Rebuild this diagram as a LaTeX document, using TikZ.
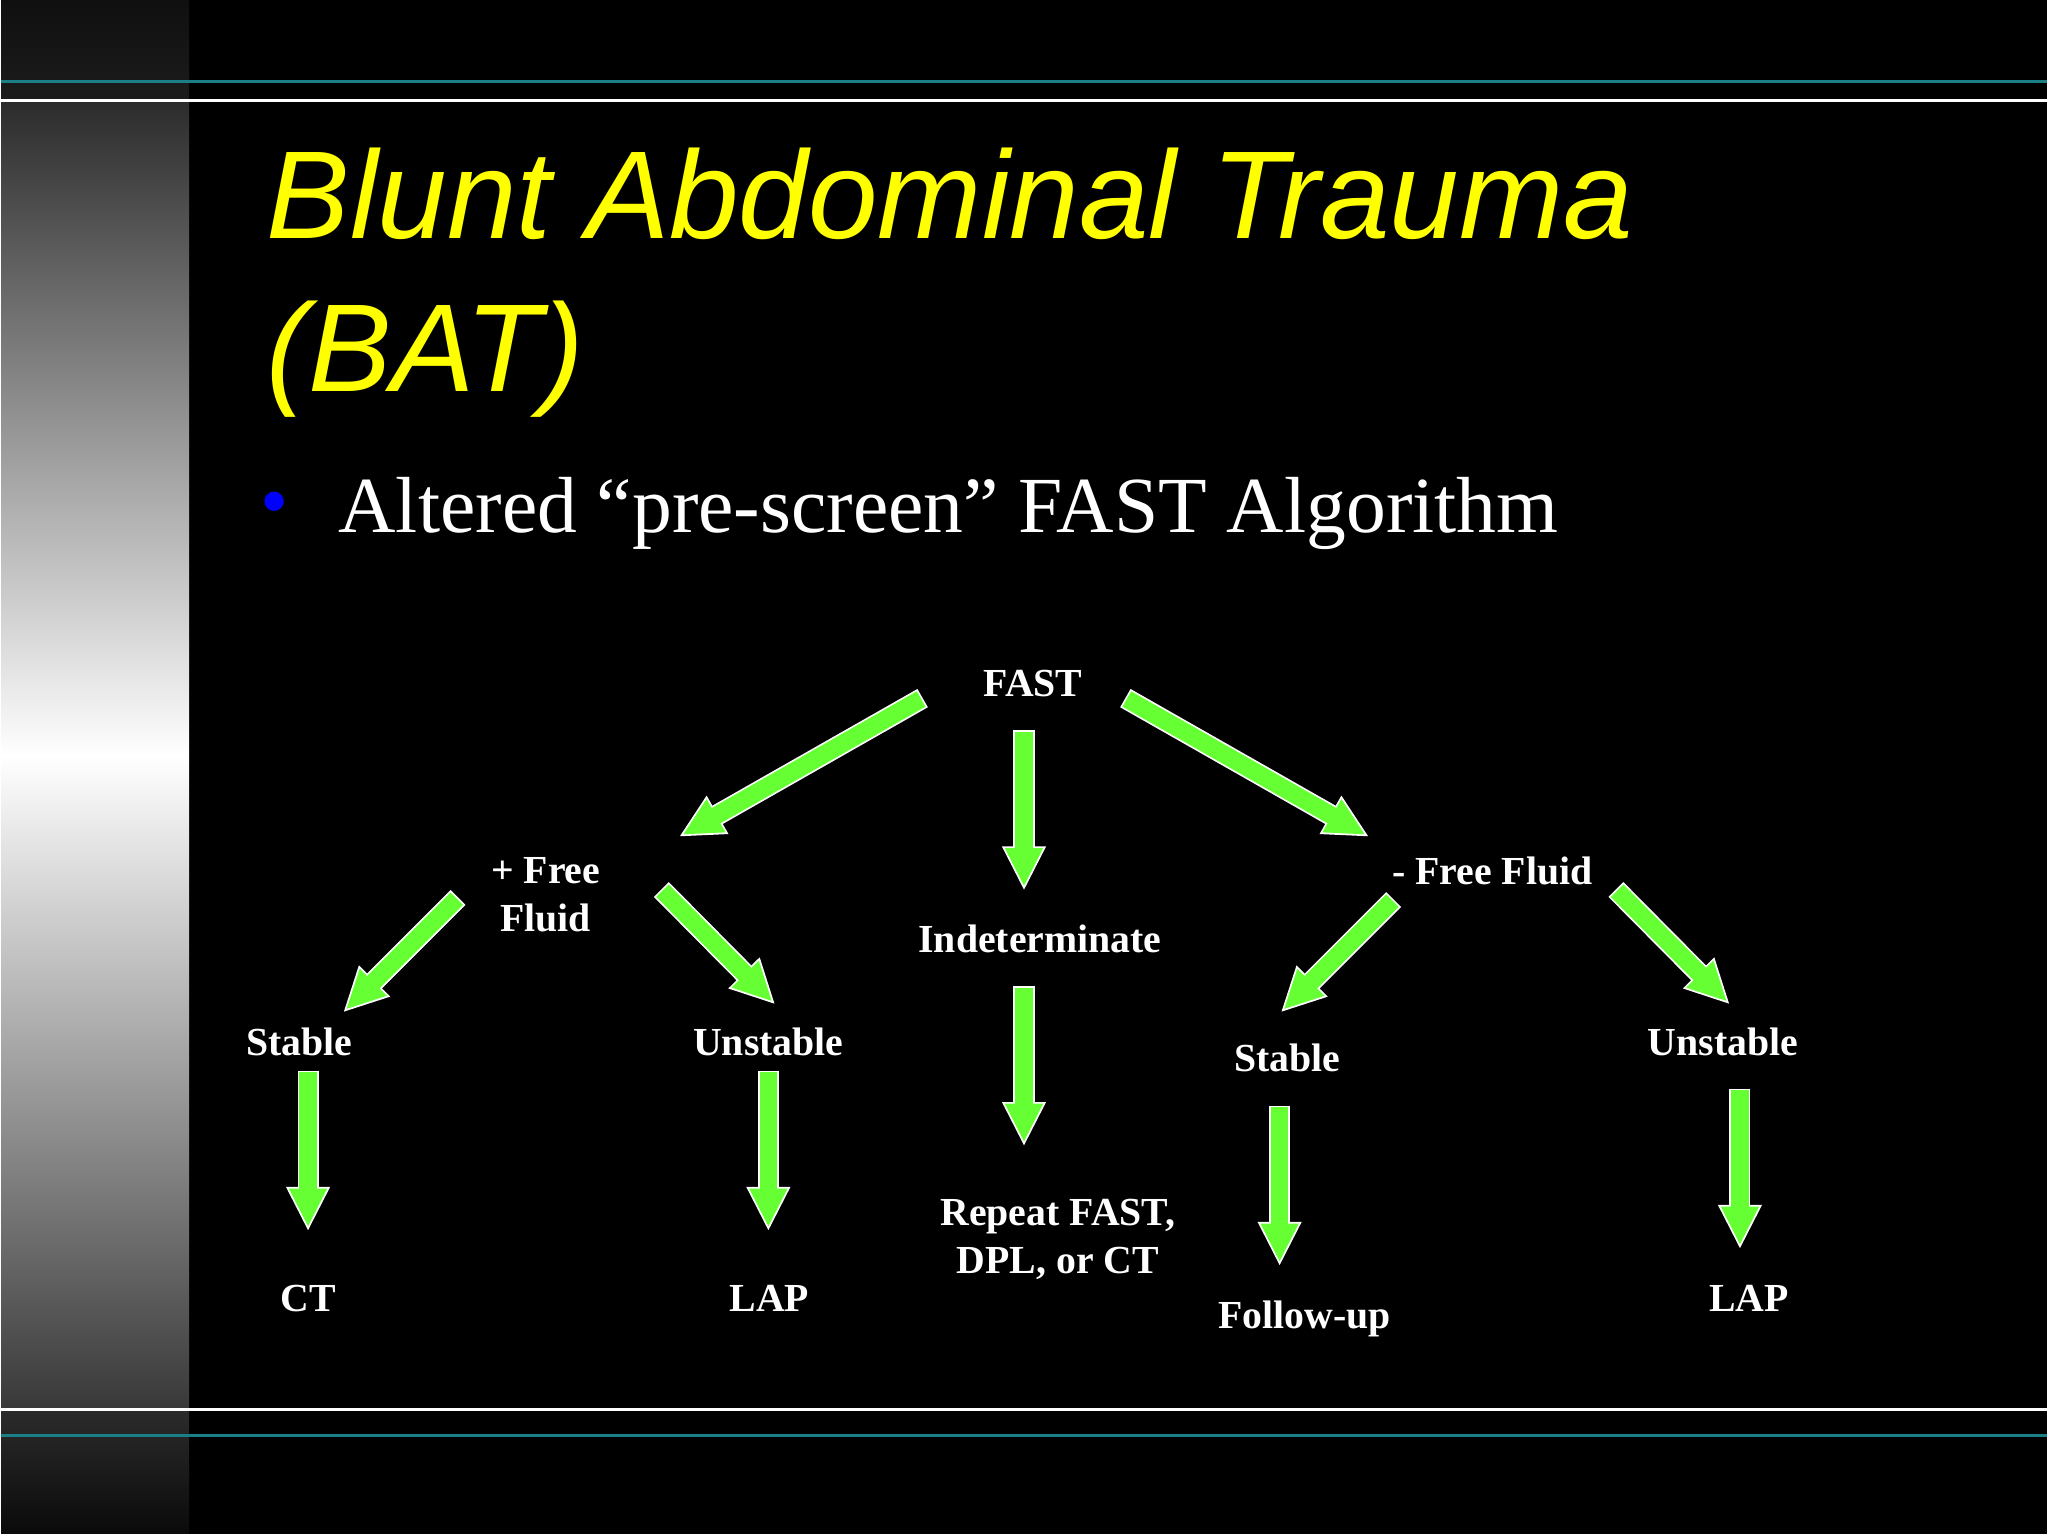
\documentclass[tikz,border=0pt]{standalone}
\usepackage{fontspec}
\setmainfont{Liberation Serif}
\newfontfamily\headfont{Liberation Sans}
\usetikzlibrary{arrows.meta}
\definecolor{fastgreen}{HTML}{66FF33}
\definecolor{ruleteal}{HTML}{1A7F86}
\definecolor{titleyellow}{HTML}{FFFF00}
\definecolor{bulletblue}{HTML}{0000FF}
\begin{document}
\begin{tikzpicture}[x=0.3515625pt, y=-0.3515625pt,
    fastnode/.style={font=\fontsize{14}{16.8}\selectfont\bfseries, text=white,
        align=center, inner sep=0pt, anchor=base},
    flowarrow/.style={draw=fastgreen, line width=6.2pt,
        -{Triangle[width=12.4pt,length=13.6pt]},
        preaction={draw=white, line width=7.4pt, shorten <=-0.6pt, shorten >=-1.45pt,
            -{Triangle[width=14.3pt,length=15.65pt]}}}]
    % slide background
    \fill[black] (0,0) rectangle (2048,1536);
    \shade[top color=black!94, bottom color=black!89] (0,0) rectangle (188,101);
    \shade[top color=black!83, bottom color=black!78, middle color=white] (0,101) rectangle (188,1412);
    \shade[top color=black!83, bottom color=black!96] (0,1412) rectangle (188,1536);
    \draw[ruleteal, line width=1.05pt] (0,82) -- (2048,82);
    \draw[white, line width=1.05pt] (0,101) -- (2048,101);
    \draw[white, line width=1.05pt] (0,1412) -- (2048,1412);
    \draw[ruleteal, line width=1.05pt] (0,1438) -- (2048,1438);

    % title and bullet
    \node[anchor=base west, inner sep=0pt, align=left, text=titleyellow,
        font=\headfont\itshape\fontsize{44}{53.8}\selectfont] (title) at (265,392)
        {Blunt Abdominal Trauma\\(BAT)};
    \fill[bulletblue] (273,502) circle (3.4pt);
    \node[anchor=base west, inner sep=0pt, text=white,
        font=\fontsize{28}{33.6}\selectfont] (sub) at (337,533)
        {Altered “pre-screen” FAST Algorithm};

    % algorithm
    \node[fastnode] (fast) at (1033,698) {FAST};
    \node[fastnode] (plus) at (545,933) {+ Free\\Fluid};
    \node[fastnode] (indet) at (1040,954) {Indeterminate};
    \node[fastnode] (minus) at (1493,886) {- Free Fluid};
    \node[fastnode] (stabA) at (298,1057) {Stable};
    \node[fastnode] (unstA) at (768,1057) {Unstable};
    \node[fastnode] (stabB) at (1288,1073) {Stable};
    \node[fastnode] (unstB) at (1724,1057) {Unstable};
    \node[fastnode] (ctA) at (307,1313) {CT};
    \node[fastnode] (lapA) at (769,1313) {LAP};
    \node[fastnode] (again) at (1058,1275) {Repeat FAST,\\DPL, or CT};
    \node[fastnode] (follow) at (1305,1330) {Follow-up};
    \node[fastnode] (lapB) at (1750,1313) {LAP};

    \draw[flowarrow] ([shift={(-112,2)}]fast.base) -- ([shift={(137,-97)}]plus.base);
    \draw[flowarrow] ([shift={(-9,35)}]fast.base) -- ([shift={(-16,-66)}]indet.base);
    \draw[flowarrow] ([shift={(94,2)}]fast.base) -- ([shift={(-127,-50)}]minus.base);
    \draw[flowarrow] ([shift={(-89,-33)}]plus.base) -- ([shift={(47,-46)}]stabA.base);
    \draw[flowarrow] ([shift={(117,-41)}]plus.base) -- ([shift={(4,-54)}]unstA.base);
    \draw[flowarrow] ([shift={(9,17)}]stabA.base) -- ([shift={(0,-84)}]ctA.base);
    \draw[flowarrow] ([shift={(0,17)}]unstA.base) -- ([shift={(-1,-84)}]lapA.base);
    \draw[flowarrow] ([shift={(-16,35)}]indet.base) -- ([shift={(-34,-131)}]again.base);
    \draw[flowarrow] ([shift={(-100,16)}]minus.base) -- ([shift={(-4,-62)}]stabB.base);
    \draw[flowarrow] ([shift={(125,6)}]minus.base) -- ([shift={(4,-54)}]unstB.base);
    \draw[flowarrow] ([shift={(-8,36)}]stabB.base) -- ([shift={(-25,-66)}]follow.base);
    \draw[flowarrow] ([shift={(17,35)}]unstB.base) -- ([shift={(-9,-66)}]lapB.base);
\end{tikzpicture}
\end{document}
